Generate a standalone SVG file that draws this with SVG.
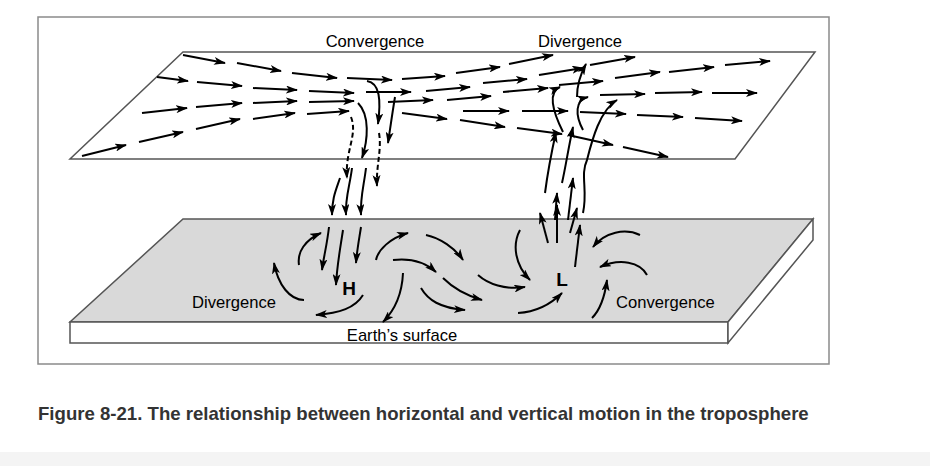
<svg xmlns="http://www.w3.org/2000/svg" width="930" height="466" viewBox="0 0 930 466">
<defs>
<marker id="ah" viewBox="0 0 12 8" refX="11" refY="4" markerWidth="12" markerHeight="8" markerUnits="userSpaceOnUse" orient="auto"><path d="M0,0 L12,4 L0,8 L3,4 Z" fill="#000"/></marker>
<style>
.a{fill:none;stroke:#000;stroke-width:2;marker-end:url(#ah)}
.d{stroke-dasharray:5 3}
.t{font-family:"Liberation Sans",Arial,sans-serif;font-size:16.6px;fill:#000}
.b{font-family:"Liberation Sans",Arial,sans-serif;font-size:19px;font-weight:bold;fill:#000}
</style>
</defs>
<rect width="930" height="466" fill="#fff"/>
<rect x="0" y="452" width="930" height="14" fill="#f4f4f4"/>
<rect x="38" y="17" width="791" height="347" fill="#fff" stroke="#8a8a8a" stroke-width="1.5"/>
<g id="upper-plane"><polygon points="183,52 815,52 735,159 70,159" fill="#fff" stroke="#555" stroke-width="1.5"/></g>
<g id="surface">
<polygon points="183,219 813,219 728,322 70,322" fill="#d9d9d9" stroke="#555" stroke-width="1.5"/>
<rect x="70" y="322" width="658" height="21" fill="#fff" stroke="#555" stroke-width="1.5"/>
<polygon points="813,219 813,240 728,343 728,322" fill="#fff" stroke="#555" stroke-width="1.5"/>
</g>
<g id="connectors">
<path class="a" d="M183,55 L225,63"/><path class="a" d="M237,63 L281,71"/><path class="a" d="M292,73 L337,78"/><path class="a" d="M347,78 L392,80"/><path class="a" d="M402,79 L445,76"/><path class="a" d="M456,73 L500,67"/><path class="a" d="M509,64 L553,55"/>
<path class="a" d="M157,77 L188,81"/><path class="a" d="M197,82 L242,86"/><path class="a" d="M253,88 L297,90"/><path class="a" d="M309,91 L354,93"/><path class="a" d="M366,92 L411,92"/><path class="a" d="M426,91 L470,87"/><path class="a" d="M483,83 L527,79"/><path class="a" d="M539,75 L583,68"/><path class="a" d="M590,65 L635,57"/>
<path class="a" d="M503,92 L548,88"/><path class="a" d="M559,85 L603,81"/><path class="a" d="M615,78 L660,72"/><path class="a" d="M669,72 L714,67"/><path class="a" d="M725,65 L770,61"/>
<path class="a" d="M142,113 L187,108"/><path class="a" d="M196,107 L242,103"/><path class="a" d="M253,103 L297,101"/><path class="a" d="M309,102 L354,101"/><path class="a" d="M388,102 L433,100"/><path class="a" d="M447,100 L491,96"/>
<path class="a" d="M307,114 L349,111"/><path class="a" d="M253,119 L295,113"/><path class="a" d="M196,129 L240,119"/><path class="a" d="M139,142 L183,132"/><path class="a" d="M82,156 L126,145"/><path class="a" d="M402,113 L447,119"/>
<path class="a" d="M463,111 L509,111"/><path class="a" d="M522,111 L568,111"/><path class="a" d="M580,112 L626,114"/><path class="a" d="M600,95 L645,94"/><path class="a" d="M655,93 L702,92"/><path class="a" d="M712,93 L757,93"/><path class="a" d="M637,115 L683,117"/><path class="a" d="M695,118 L742,121"/>
<path class="a" d="M460,120 L505,127"/><path class="a" d="M517,128 L562,134"/><path class="a" d="M568,135 L613,145"/><path class="a" d="M623,147 L668,157"/>
<path class="a" d="M367,81 C380,83 381,100 378,124"/>
<path class="a" d="M395,97 C392,115 390,130 388,143"/>
<path class="a" d="M358,103 C370,115 368,140 362,158"/>
<path class="a d" d="M351,117 C358,135 345,150 347,178"/>
<path class="a d" d="M379,133 C382,150 376,165 377,186"/>
<path class="a" d="M340,178 C336,190 332,198 332,215"/>
<path class="a" d="M352,168 C350,185 345,198 346,215"/>
<path class="a" d="M366,168 C364,185 360,198 361,215"/>
<path class="a" d="M329,227 C327,245 324,255 322,270"/>
<path class="a" d="M343,230 C340,250 337,265 336,285"/>
<path class="a" d="M361,227 C359,240 357,250 356,263"/>
<path class="a" d="M545,193 C548,170 552,150 556,132"/>
<path class="a" d="M562,183 C566,165 568,150 573,127"/>
<path class="a" d="M583,213 C588,190 580,175 587,160 C592,140 600,110 617,100"/>
<path class="a" d="M563,132 C552,110 548,92 560,87"/>
<path class="a" d="M583,130 C575,115 575,100 588,97"/>
<path class="a" d="M577,97 C577,85 580,75 586,64"/>
<path class="a" d="M555,220 L557,193"/><path class="a" d="M568,220 L573,178"/>
<path class="a" d="M548,243 L540,213"/><path class="a" d="M557,243 L557,205"/><path class="a" d="M570,233 L577,208"/><path class="a" d="M575,267 L580,225"/>
<path class="a" d="M299,265 C297,252 305,240 321,233"/>
<path class="a" d="M304,300 C290,300 278,285 274,263"/>
<path class="a" d="M363,295 C355,308 340,313 316,315"/>
<path class="a" d="M403,273 C402,295 395,310 383,322"/>
<path class="a" d="M376,260 C378,250 390,238 408,233"/>
<path class="a" d="M426,235 C440,238 455,248 463,260"/>
<path class="a" d="M393,260 C410,258 425,262 436,272"/>
<path class="a" d="M443,278 C455,290 468,296 482,300"/>
<path class="a" d="M421,288 C428,300 440,308 465,310"/>
<path class="a" d="M478,275 C488,284 505,290 525,287"/>
<path class="a" d="M520,230 C512,245 515,265 530,280"/>
<path class="a" d="M518,313 C535,312 550,305 562,293"/>
<path class="a" d="M640,235 C625,228 605,232 593,247"/>
<path class="a" d="M647,275 C640,262 620,258 600,267"/>
<path class="a" d="M592,318 C600,310 605,295 607,280"/>
</g>
<g id="labels">
<text class="t" x="375" y="47" text-anchor="middle">Convergence</text>
<text class="t" x="580" y="47" text-anchor="middle">Divergence</text>
<text class="t" x="234" y="308" text-anchor="middle">Divergence</text>
<text class="t" x="616" y="308">Convergence</text>
<text class="t" x="402" y="341" text-anchor="middle">Earth’s surface</text>
<text class="b" x="349" y="295" text-anchor="middle">H</text>
<text class="b" x="562" y="286" text-anchor="middle">L</text>
<text x="38" y="420" style="font-family:'Liberation Sans',Arial,sans-serif;font-size:18.6px;font-weight:bold;fill:#333">Figure 8-21. The relationship between horizontal and vertical motion in the troposphere</text>
</g>
</svg>
